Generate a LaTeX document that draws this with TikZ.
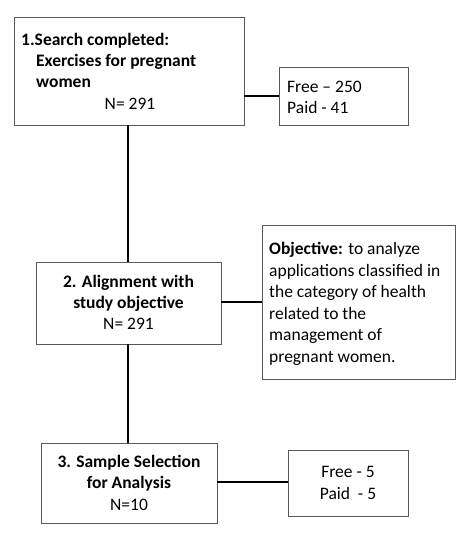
\documentclass[tikz,border=0pt]{standalone}
\usepackage{fontspec}
\setmainfont{Carlito}
\begin{document}
\begin{tikzpicture}[x=1pt,y=-1pt,
  box/.style={draw=black!65,line width=0.9pt},
  link/.style={draw=black,line width=1.3pt},
  tl/.style={inner sep=0pt,font=\fontsize{17.5}{21}\selectfont},
  bl/.style={tl,font=\fontsize{17.5}{21}\selectfont\bfseries}]
\useasboundingbox (0,0) rectangle (474,533);
% boxes
\node[box,minimum width=230,minimum height=108,inner sep=0pt] (b1) at (129,71) {};
\node[box,minimum width=129,minimum height=58,inner sep=0pt] (f1) at (343.5,96) {};
\node[box,minimum width=185,minimum height=82,inner sep=0pt] (b2) at (128.5,303) {};
\node[box,minimum width=193,minimum height=154,inner sep=0pt] (ob) at (358.5,302) {};
\node[box,minimum width=176,minimum height=80,inner sep=0pt] (b3) at (129,483) {};
\node[box,minimum width=120,minimum height=66,inner sep=0pt] (f3) at (348,483) {};
% connectors
\draw[link] (b1.south -| 128,0) -- (b2.north -| 128,0);
\draw[link] (b2.south -| 128,0) -- (b3.north -| 128,0);
\draw[link] (b1.east |- 0,96) -- (f1.west |- 0,96);
\draw[link] (b2.east |- 0,302) -- (ob.west |- 0,302);
\draw[link] (b3.east |- 0,482) -- (f3.west |- 0,482);
% box 1 text
\node[bl,anchor=base west] (t1a) at (21,45) {1.Search completed:};
\node[bl,anchor=base west] (t1b) at (36,66) {Exercises for pregnant};
\node[bl,anchor=base west] (t1c) at (36,87) {women};
\node[tl,anchor=base] (t1d) at (130,109) {N= 291};
% free/paid 1
\node[tl,anchor=base west] (f1a) at (287,92) {Free – 250};
\node[tl,anchor=base west] (f1b) at (287,113) {Paid - 41};
% box 2 text
\node[bl,anchor=base] (t2a) at (128.5,287) {2. Alignment with};
\node[bl,anchor=base] (t2b) at (128.5,308) {study objective};
\node[tl,anchor=base] (t2c) at (128.5,329) {N= 291};
% objective
\node[tl,anchor=base west] (o1) at (269,254) {\textbf{Objective:} to analyze};
\node[tl,anchor=base west] (o2) at (269,276) {applications classified in};
\node[tl,anchor=base west] (o3) at (269,297) {the category of health};
\node[tl,anchor=base west] (o4) at (269,319) {related to the};
\node[tl,anchor=base west] (o5) at (269,340) {management of};
\node[tl,anchor=base west] (o6) at (269,362) {pregnant women.};
% box 3 text
\node[bl,anchor=base] (t3a) at (129,467) {3. Sample Selection};
\node[bl,anchor=base] (t3b) at (129,488) {for Analysis};
\node[tl,anchor=base] (t3c) at (129,510) {N=10};
% free/paid 3
\node[tl,anchor=base] (f3a) at (348,477) {Free - 5};
\node[tl,anchor=base] (f3b) at (348,499) {Paid~ - 5};
\end{tikzpicture}
\end{document}
